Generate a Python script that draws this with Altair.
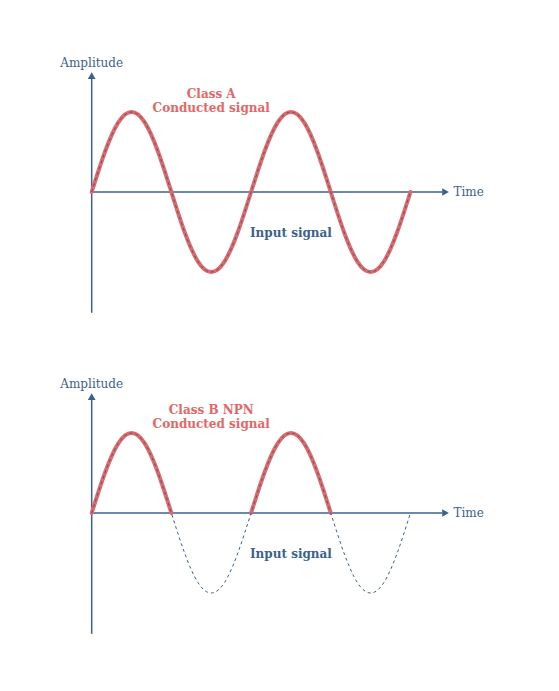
import altair as alt
import pandas as pd

# ---- data (time in periods, amplitude normalised) ----
time = [0, 0.083, 0.167, 0.25, 0.333, 0.417, 0.5, 0.583, 0.667, 0.75, 0.833, 0.917,
        1.0, 1.083, 1.167, 1.25, 1.333, 1.417, 1.5, 1.583, 1.667, 1.75, 1.833, 1.917, 2.0]
amplitude = [0, 0.5, 0.87, 1, 0.87, 0.5, 0, -0.5, -0.87, -1, -0.87, -0.5,
             0, 0.5, 0.87, 1, 0.87, 0.5, 0, -0.5, -0.87, -1, -0.87, -0.5, 0]

# Class B conducts only the positive half-cycles
classb_time = [0, 0.083, 0.167, 0.25, 0.333, 0.417, 0.5,
               1.0, 1.083, 1.167, 1.25, 1.333, 1.417, 1.5]
classb_amp = [0, 0.5, 0.87, 1, 0.87, 0.5, 0,
              0, 0.5, 0.87, 1, 0.87, 0.5, 0]
classb_seg = [1] * 7 + [2] * 7

panel_titles = [["Class A", "Conducted signal"], ["Class B NPN", "Conducted signal"]]
title_amp = [[1.225, 1.05], [1.2875, 1.1125]]
title_time = 0.75
input_label = "Input signal"
input_label_pos = (1.25, -0.51)
y_axis_label = "Amplitude"
x_axis_label = "Time"

BLUE = "#3b6190"
RED = "#e46767"
FONT = "DejaVu Serif"

XDOM = [-0.5, 2.75]
YDOM = [-1.9, 1.9]
W, H = 518, 304

xs = alt.Scale(domain=XDOM, nice=False, zero=False)
ys = alt.Scale(domain=YDOM, nice=False, zero=False)


def X(f):
    return alt.X(f, type="quantitative", scale=xs, axis=None)


def Y(f):
    return alt.Y(f, type="quantitative", scale=ys, axis=None)


def panel(idx):
    inp = pd.DataFrame({"t": time, "a": amplitude})
    if idx == 0:
        cond = pd.DataFrame({"t": time, "a": amplitude, "seg": [1] * len(time)})
    else:
        cond = pd.DataFrame({"t": classb_time, "a": classb_amp, "seg": classb_seg})

    hax = alt.Chart(pd.DataFrame({"x": [0], "x2": [2.2], "y": [0]})).mark_rule(
        color=BLUE, strokeWidth=1.5).encode(x=X("x"), x2="x2", y=Y("y"))
    vax = alt.Chart(pd.DataFrame({"x": [0], "y": [-1.51], "y2": [1.43]})).mark_rule(
        color=BLUE, strokeWidth=1.5).encode(x=X("x"), y=Y("y"), y2="y2")
    harrow = alt.Chart(pd.DataFrame({"x": [2.22], "y": [0]})).mark_point(
        shape="triangle-right", filled=True, color=BLUE, opacity=1, size=60).encode(x=X("x"), y=Y("y"))
    varrow = alt.Chart(pd.DataFrame({"x": [0], "y": [1.455]})).mark_point(
        shape="triangle-up", filled=True, color=BLUE, opacity=1, size=60).encode(x=X("x"), y=Y("y"))

    cline = alt.Chart(cond).mark_line(color=RED, strokeWidth=4, interpolate="natural",
                                      strokeCap="round").encode(
        x=X("t"), y=Y("a"), detail="seg:N", order="t:Q")
    iline = alt.Chart(inp).mark_line(color=BLUE, strokeWidth=1, strokeDash=[3, 3],
                                     interpolate="natural").encode(x=X("t"), y=Y("a"), order="t:Q")

    ylab = alt.Chart(pd.DataFrame({"x": [0], "y": [1.6125], "s": [y_axis_label]})).mark_text(
        font=FONT, fontSize=12, color=BLUE, align="center", baseline="middle").encode(
        x=X("x"), y=Y("y"), text="s:N")
    xlab = alt.Chart(pd.DataFrame({"x": [2.27], "y": [0.0], "s": [x_axis_label]})).mark_text(
        font=FONT, fontSize=12, color=BLUE, align="left", baseline="middle").encode(
        x=X("x"), y=Y("y"), text="s:N")
    ttl = alt.Chart(pd.DataFrame({"x": [title_time, title_time], "y": title_amp[idx],
                                  "s": panel_titles[idx]})).mark_text(
        font=FONT, fontSize=12, fontWeight="bold", color=RED, align="center", baseline="middle").encode(
        x=X("x"), y=Y("y"), text="s:N")
    inl = alt.Chart(pd.DataFrame({"x": [input_label_pos[0]], "y": [input_label_pos[1]],
                                  "s": [input_label]})).mark_text(
        font=FONT, fontSize=12, fontWeight="bold", color=BLUE, align="center", baseline="middle").encode(
        x=X("x"), y=Y("y"), text="s:N")

    return alt.layer(hax, vax, harrow, varrow, cline, iline, ylab, xlab, ttl, inl).properties(
        width=W, height=H)


chart = alt.vconcat(panel(0), panel(1), spacing=17).properties(
    padding={"left": 4, "top": 32, "right": 5, "bottom": 5}
).configure_view(stroke=None)

chart.save("out.html", embed_options={"renderer": "svg", "actions": False})
